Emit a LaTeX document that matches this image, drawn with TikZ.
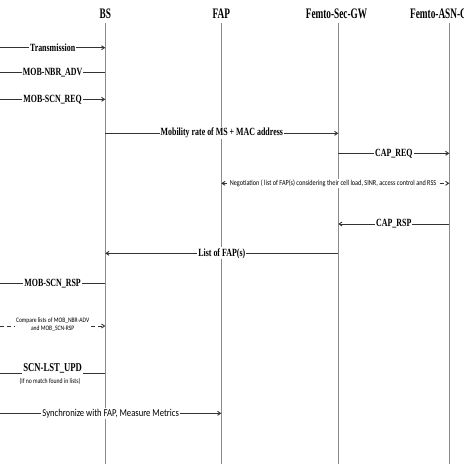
\documentclass[tikz,border=0pt]{standalone}
\usepackage{fontspec}
\setmainfont{Liberation Serif}
\newfontfamily\hdrfont[FakeStretch=0.64]{Liberation Serif}
\newfontfamily\lblfont[FakeStretch=0.72]{Liberation Serif}
\newfontfamily\calfont[FakeStretch=0.82]{Carlito}
\usetikzlibrary{arrows.meta}
\tikzset{
  hdr/.style={font=\hdrfont\bfseries\fontsize{14.5}{14.5}\selectfont, inner sep=0pt, text=black},
  life/.style={draw=black!45, line width=1.1pt},
  msg/.style={draw=black!80, line width=0.9pt},
  arr/.style={-{Straight Barb[length=3pt,width=4pt]}},
  lbl/.style={font=\lblfont\bfseries\fontsize{11}{11}\selectfont, fill=white, inner sep=1pt, text=black},
  sml/.style={font=\calfont\fontsize{6.8}{7.6}\selectfont, fill=white, inner sep=1pt, align=center, text=black},
  cal/.style={font=\calfont\fontsize{10.5}{11}\selectfont, fill=white, inner sep=1pt, text=black},
  dsh/.style={dash pattern=on 4pt off 3pt}
}
\begin{document}
\begin{tikzpicture}[x=1pt,y=-1pt]
\useasboundingbox (0,0) rectangle (464,464);
\clip (0,0) rectangle (464,464);
% headers
\node[hdr] (bs) at (105.3,13.5) {BS};
\node[hdr] (fap) at (221.3,13.5) {FAP};
\node[hdr] (gw) at (336.5,13.5) {Femto-Sec-GW};
\node[hdr,anchor=west] (asn) at (410,13.5) {Femto-ASN-GW};
% lifeline ends
\coordinate (bsT) at (105.3,23);
\coordinate (fapT) at (221.3,23);
\coordinate (gwT) at (338.3,23);
\coordinate (asnT) at (449.3,23);
\coordinate (bot) at (0,464);
\draw[life] (bsT) -- (bsT |- bot);
\draw[life] (fapT) -- (fapT |- bot);
\draw[life] (gwT) -- (gwT |- bot);
\draw[life] (asnT) -- (asnT |- bot);
% left free ends
\coordinate (l1) at (0,47.7);
\coordinate (l2) at (0,72.7);
\coordinate (l3) at (0,99.3);
\coordinate (l9) at (0,283.3);
\coordinate (l10) at (0,326);
\coordinate (l11) at (0,373.3);
\coordinate (l12) at (0,413.3);
\coordinate (y4) at (0,133.3);
\coordinate (y5) at (0,153.3);
\coordinate (y6) at (0,183.3);
\coordinate (y7) at (0,224);
\coordinate (y8) at (0,253.3);
% messages
\draw[msg,arr] (l1) -- (bsT |- l1) node[midway,lbl] (t1) {Transmission};
\draw[msg] (l2) -- (bsT |- l2) node[midway,lbl] (t2) {MOB-NBR\_ADV};
\draw[msg,arr] (l3) -- (bsT |- l3) node[midway,lbl] (t3) {MOB-SCN\_REQ};
\draw[msg,arr] (bsT |- y4) -- (gwT |- y4) node[midway,lbl] (t4) {Mobility rate of MS + MAC address};
\draw[msg,arr] (gwT |- y5) -- (asnT |- y5) node[midway,lbl] (t5) {CAP\_REQ};
\draw[msg,dsh,{Straight Barb[length=3pt,width=4pt]}-{Straight Barb[length=3pt,width=4pt]}] (fapT |- y6) -- (asnT |- y6) node[pos=0.49,sml,font=\calfont\fontsize{7.6}{8}\selectfont] (t6) {Negotiation ( list of FAP(s) considering their cell load, SINR, access control and RSS};
\draw[msg,arr] (asnT |- y7) -- (gwT |- y7) node[midway,lbl] (t7) {CAP\_RSP};
\draw[msg,arr] (gwT |- y8) -- (bsT |- y8) node[midway,lbl] (t8) {List of FAP(s)};
\draw[msg] (l9) -- (bsT |- l9) node[midway,lbl] (t9) {MOB-SCN\_RSP};
\draw[msg,dsh,arr] (l10) -- (bsT |- l10) node[midway,sml,yshift=1.5pt] (t10) {Compare lists of MOB\_NBR-ADV\\and MOB\_SCN-RSP};
\draw[msg] (l11) -- (bsT |- l11) node[midway,lbl,anchor=south,yshift=-1.5pt,font=\lblfont\bfseries\fontsize{12}{12}\selectfont] (t11) {SCN-LST\_UPD};
\node[sml,fill=none,font=\calfont\fontsize{7}{7.5}\selectfont] (t11b) at (50,381.5) {(If no match found in lists)};
\draw[msg,arr] (l12) -- (fapT |- l12) node[midway,cal] (t12) {Synchronize with FAP, Measure Metrics};
\end{tikzpicture}
\end{document}
